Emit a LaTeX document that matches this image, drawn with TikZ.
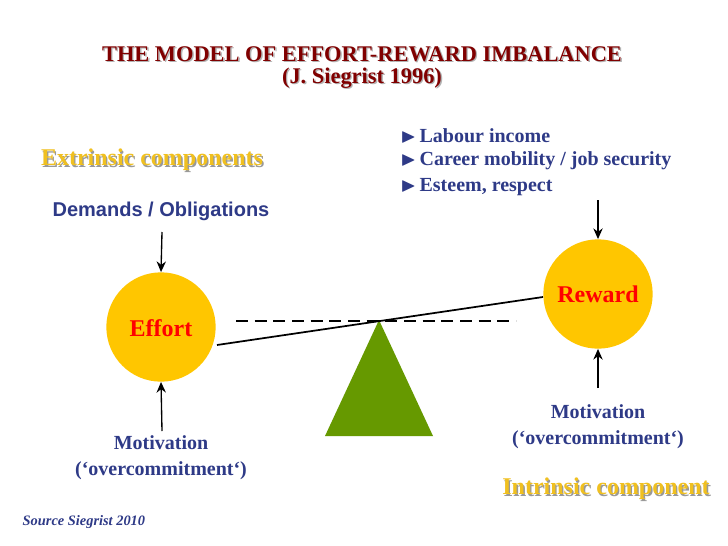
\documentclass[tikz,border=0pt]{standalone}
\usepackage{amssymb}
\usepackage{fontspec}
\setmainfont{Liberation Serif}
\newfontfamily\sansf{Liberation Sans}
\usetikzlibrary{arrows.meta}
\definecolor{dred}{HTML}{800000}
\definecolor{dblue}{HTML}{2E3A87}
\definecolor{gold}{HTML}{FFC600}
\definecolor{txtgold}{HTML}{F0C020}
\definecolor{lgreen}{HTML}{669900}
\begin{document}
\begin{tikzpicture}[x=0.75pt,y=-0.75pt,
  circ/.style={circle,fill=gold,minimum size=82pt,inner sep=0pt},
  lbl/.style={font=\bfseries\fontsize{15}{17}\selectfont,text=dblue},
  arr/.style={-{Stealth[length=8pt,width=7pt]},line width=1pt},
  shadowtxt/.style={font=\bfseries\fontsize{16.8}{19}\selectfont}]
\useasboundingbox (0,0) rectangle (728,546);
\fill[white] (0,0) rectangle (728,546);
% title
\foreach \dx/\c in {1.4/gray!60,0/dred}{
  \node[shadowtxt,text=\c] at (362+\dx,54+\dx) {THE MODEL OF EFFORT-REWARD IMBALANCE};
  \node[shadowtxt,text=\c] at (362+\dx,78+\dx) {(J. Siegrist 1996)};
}
\foreach \dx/\c in {1.4/gray!80,0/txtgold}{
  \node[font=\bfseries\fontsize{18}{20}\selectfont,text=\c] at (152+\dx,160+\dx) {Extrinsic components};
  \node[font=\bfseries\fontsize{18}{20}\selectfont,text=\c] at (606+\dx,489+\dx) {Intrinsic component};
}
\node[font=\sansf\bfseries\fontsize{15}{17}\selectfont,text=dblue] (dem) at (161,211) {Demands / Obligations};
\node[lbl,anchor=west] (b1) at (396,136) {$\blacktriangleright$\,Labour income};
\node[lbl,anchor=west] (b2) at (396,161) {$\blacktriangleright$\,Career mobility / job security};
\node[lbl,anchor=west] (b3) at (396,187) {$\blacktriangleright$\,Esteem, respect};
% scale
\fill[lgreen] (379,320) -- (433,436) -- (325,436) -- cycle;
\draw[dashed,line width=1.3pt,dash pattern=on 9pt off 5pt] (236,321) -- (516,321);
\node[circ] (eff) at (161,327) {};
\node[circ] (rew) at (598,294) {};
\draw[line width=1.3pt] (217,345) -- (543,297);
\node[font=\bfseries\fontsize{18}{20}\selectfont,text=red] at (161,328) {Effort};
\node[font=\bfseries\fontsize{18}{20}\selectfont,text=red] at (598,294) {Reward};
\node[lbl] (m1) at (161,443) {Motivation};
\node[lbl] (o1) at (161,471) {(‘overcommitment‘)};
\node[lbl] (m2) at (598,412) {Motivation};
\node[lbl] (o2) at (598,440) {(‘overcommitment‘)};
\coordinate (a1) at (162,232); \coordinate (a2) at (162,431);
\coordinate (a3) at (598,200); \coordinate (a4) at (598,388);
\draw[arr] (a1) -- (eff.north);
\draw[arr] (a2) -- (eff.south);
\draw[arr] (a3) -- (rew.north);
\draw[arr] (a4) -- (rew.south);
\node[font=\bfseries\itshape\fontsize{10.8}{12}\selectfont,text=dblue,anchor=west] at (18,522) {Source Siegrist 2010};
\end{tikzpicture}
\end{document}
